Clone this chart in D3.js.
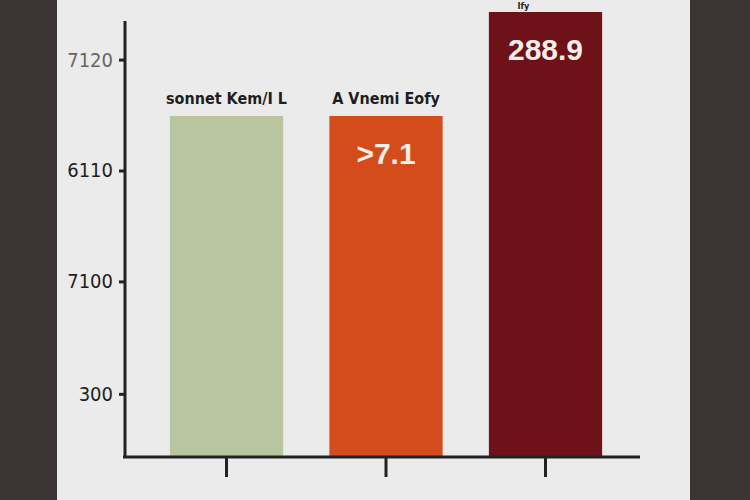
<!DOCTYPE html>
<html>
<head>
<meta charset="utf-8">
<script src="https://cdn.jsdelivr.net/npm/d3@7"></script>
<style>
  html, body { margin: 0; padding: 0; background: #3a3434; }
  svg { display: block; }
</style>
</head>
<body>
<svg id="chart" width="750" height="500"></svg>
<script>
// ---- data ----
const categories = ["sonnet Kem/I L", "A Vnemi Eofy", "Ify"];
const values = [221.4, 221.4, 288.9];
const valueLabels = ["", ">7.1", "288.9"];
const colors = ["#b8c59f", "#d44b1c", "#6e1119"];
const tickValues = [41, 114, 186, 258];
const tickLabels = ["300", "7100", "6110", "7120"];

const svg = d3.select("#chart");
const W = 750, H = 500;
const condensed = "'DejaVu Sans Condensed', 'DejaVu Sans', sans-serif";

// backgrounds
svg.append("rect").attr("x", 0).attr("y", 0).attr("width", W).attr("height", H).attr("fill", "#3a3434");
svg.append("rect").attr("x", 57).attr("y", 0).attr("width", 633).attr("height", H).attr("fill", "#ebebeb");

const x = d3.scaleBand().domain(categories).range([130, 642]).paddingInner(0.29).paddingOuter(0.25);
const y = d3.scaleLinear().domain([0, 288.9]).range([457, 12]);

// bars
svg.selectAll("rect.bar").data(categories).enter().append("rect")
  .attr("class", "bar")
  .attr("x", d => x(d))
  .attr("width", x.bandwidth())
  .attr("y", (d, i) => y(values[i]))
  .attr("height", (d, i) => y(0) - y(values[i]))
  .attr("fill", (d, i) => colors[i]);

// category labels above bars (the third one sits small in the top strip)
svg.selectAll("text.cat").data(categories).enter().append("text")
  .attr("class", "cat")
  .attr("x", (d, i) => x(d) + x.bandwidth() / 2 - (i === 2 ? 22 : 0))
  .attr("y", (d, i) => i === 2 ? 9 : y(values[i]) - 12)
  .attr("text-anchor", "middle")
  .attr("font-family", condensed)
  .attr("font-stretch", "condensed")
  .attr("font-weight", "bold")
  .attr("font-size", (d, i) => i === 2 ? 9 : 16)
  .attr("fill", "#1e1e1e")
  .text(d => d);

// value labels inside bars
svg.selectAll("text.val").data(categories).enter().append("text")
  .attr("class", "val")
  .attr("x", d => x(d) + x.bandwidth() / 2)
  .attr("y", (d, i) => y(values[i]) + 48)
  .attr("text-anchor", "middle")
  .attr("font-family", "'Liberation Sans', Arial, sans-serif")
  .attr("font-weight", "bold")
  .attr("font-size", 30)
  .attr("fill", "#f3eee8")
  .text((d, i) => valueLabels[i]);

// y axis
const yAxis = d3.axisLeft(y).tickValues(tickValues).tickFormat((d, i) => tickLabels[i]).tickSize(6).tickPadding(6);
const gy = svg.append("g").attr("transform", "translate(125,0)").call(yAxis);
gy.select(".domain").remove();
gy.selectAll(".tick line").attr("stroke", "#222").attr("stroke-width", 3);
gy.selectAll(".tick text")
  .attr("font-family", condensed)
  .attr("font-stretch", "condensed")
  .attr("font-size", 20)
  .attr("fill", (d, i) => i === 3 ? "#666" : "#1e1e1e");
svg.append("line").attr("x1", 125).attr("x2", 125).attr("y1", 21).attr("y2", 458)
  .attr("stroke", "#222").attr("stroke-width", 3);

// x axis
const xAxis = d3.axisBottom(x).tickSize(20).tickFormat("");
const gx = svg.append("g").attr("transform", "translate(0,457)").call(xAxis);
gx.select(".domain").remove();
gx.selectAll(".tick line").attr("stroke", "#222").attr("stroke-width", 3);
svg.append("line").attr("x1", 123).attr("x2", 640).attr("y1", 457).attr("y2", 457)
  .attr("stroke", "#222").attr("stroke-width", 3);
</script>
</body>
</html>
